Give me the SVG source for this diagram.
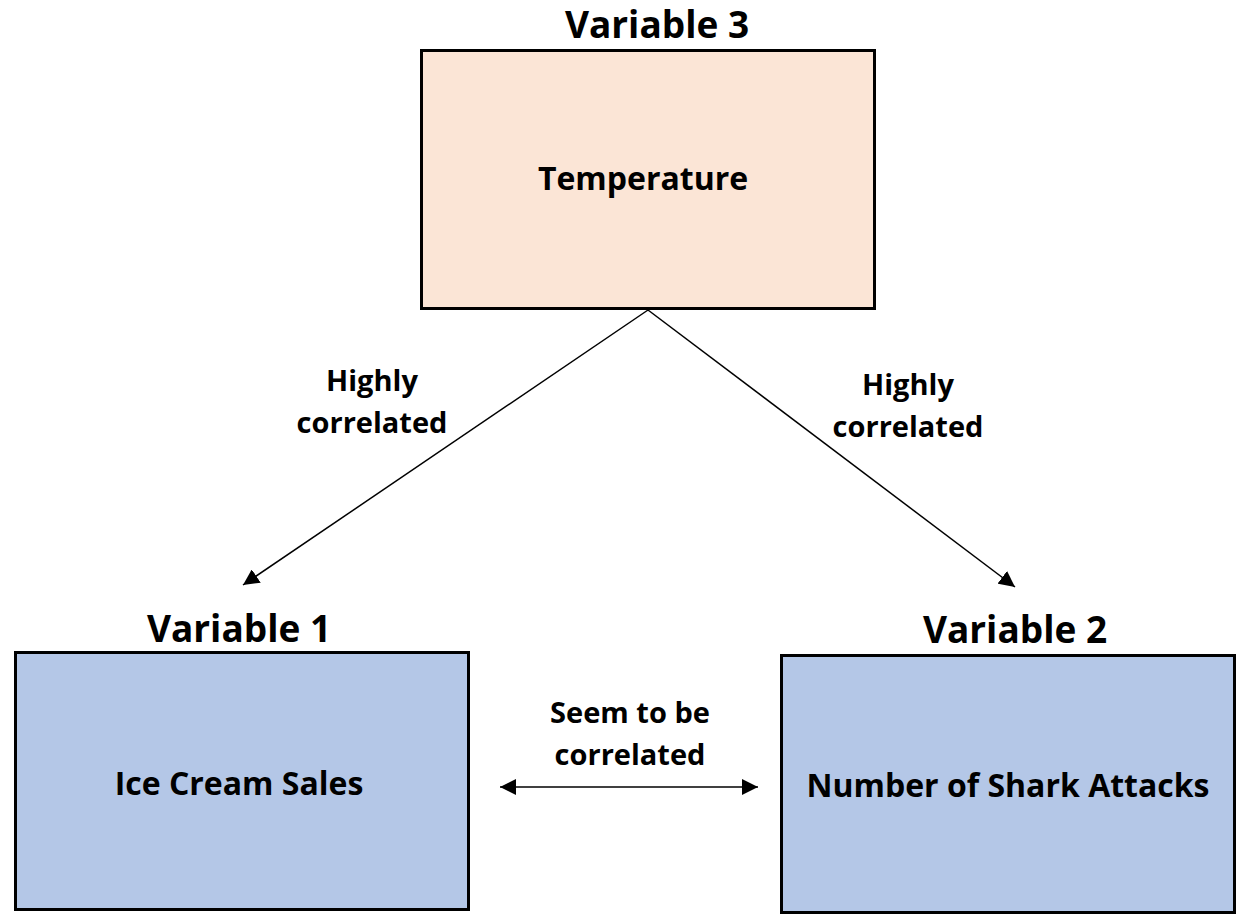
<svg xmlns="http://www.w3.org/2000/svg" width="1242" height="915" viewBox="0 0 1242 915">
<style>
.t{font-family:"Open Sans",Lato,"Liberation Sans",sans-serif;font-weight:bold;fill:#000;text-anchor:middle}
.title{font-size:37px}
.lbl{font-size:32px}
.edge{font-size:29px}
.box{stroke:#000;stroke-width:3}
.conn{stroke:#000;stroke-width:1.5;fill:none}
</style>
<defs>
<marker id="ah2" viewBox="0 0 10 10" refX="10" refY="5" markerWidth="16" markerHeight="16" markerUnits="userSpaceOnUse" orient="auto-start-reverse">
<path d="M0,0 L10,5 L0,10 z" fill="#000"/>
</marker>
</defs>
<rect width="1242" height="915" fill="#fff"/>
<g id="connectors">
<line class="conn" x1="648" y1="310" x2="243" y2="585" marker-end="url(#ah2)"/>
<line class="conn" x1="648" y1="310" x2="1015" y2="587" marker-end="url(#ah2)"/>
<line class="conn" x1="500" y1="787" x2="758" y2="787" marker-start="url(#ah2)" marker-end="url(#ah2)"/>
<text class="t edge" x="372" y="391">Highly</text>
<text class="t edge" x="372" y="433">correlated</text>
<text class="t edge" x="908" y="395">Highly</text>
<text class="t edge" x="908" y="437">correlated</text>
<text class="t edge" x="630" y="723">Seem to be</text>
<text class="t edge" x="630" y="765">correlated</text>
</g>
<g id="node-temperature">
<text class="t title" x="657" y="38">Variable 3</text>
<rect class="box" x="421.5" y="50.5" width="453" height="258" fill="#FBE5D6"/>
<text class="t lbl" x="643" y="190">Temperature</text>
</g>
<g id="node-icecream">
<text class="t title" x="239" y="642">Variable 1</text>
<rect class="box" x="15.5" y="652.5" width="453" height="257" fill="#B4C7E7"/>
<text class="t lbl" x="239" y="795">Ice Cream Sales</text>
</g>
<g id="node-shark">
<text class="t title" x="1015" y="643">Variable 2</text>
<rect class="box" x="781.5" y="655.5" width="453" height="257" fill="#B4C7E7"/>
<text class="t lbl" x="1008" y="797">Number of Shark Attacks</text>
</g>
</svg>
